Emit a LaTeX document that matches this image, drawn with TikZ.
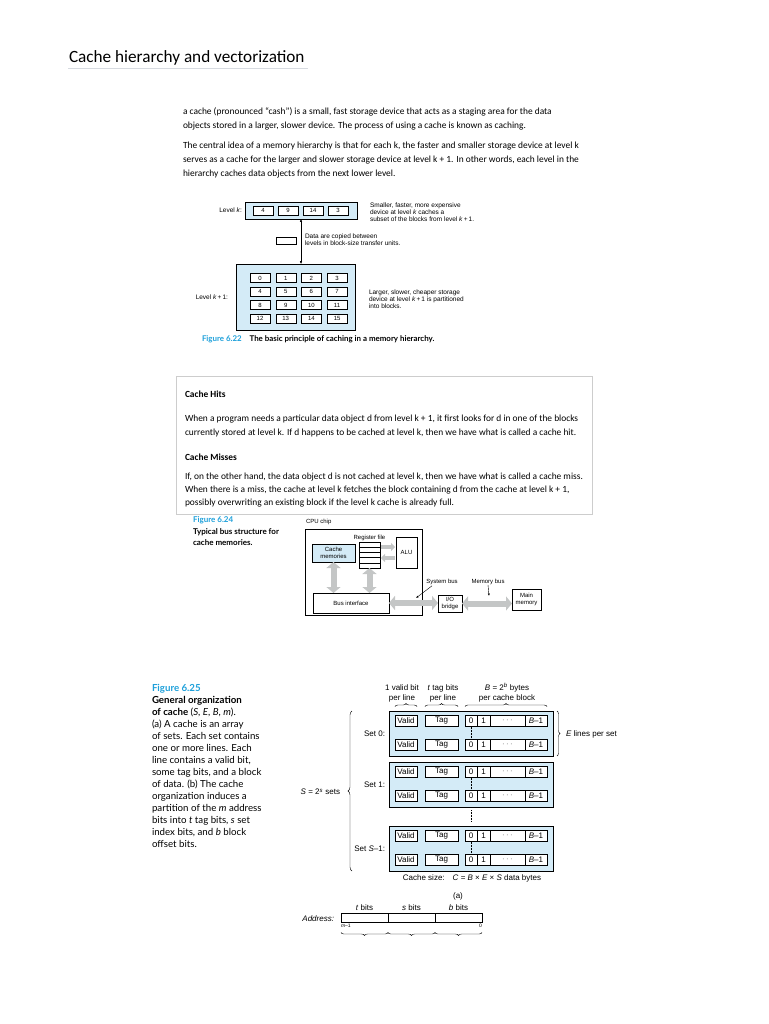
\documentclass[tikz,border=0pt]{standalone}
\usepackage{fontspec}
\setmainfont{Carlito}
\newfontfamily\figfont{Liberation Sans}
\newfontfamily\capfont{Lato}
\usetikzlibrary{arrows.meta,positioning,decorations.pathreplacing,calc}
\definecolor{figBlue}{RGB}{212,235,247}
\definecolor{capCyan}{RGB}{30,160,218}
\definecolor{busGray}{RGB}{196,198,198}
\definecolor{ruleGray}{RGB}{214,218,224}
\definecolor{boxGray}{RGB}{205,205,205}
\newcommand{\figS}{\figfont\fontsize{6}{7}\selectfont}
\newcommand{\figL}{\figfont\fontsize{6.5}{6.8}\selectfont}
\newcommand{\figM}{\figfont\fontsize{8}{10}\selectfont}

\begin{document}
\begin{tikzpicture}[
    x=1pt, y=-1pt,
    >=Latex,
    every node/.style={inner sep=0pt, outer sep=0pt},
    bodytxt/.style={anchor=west, align=left, font=\fontsize{9.4}{14}\selectfont},
    headtxt/.style={anchor=west, font=\bfseries\fontsize{9.4}{11}\selectfont},
    figtxt/.style={anchor=west, align=left, font=\figL},
    bustxt/.style={anchor=west, align=left, font=\figS},
    figlbl/.style={align=center, font=\figM},
    lvlbox/.style={draw, fill=figBlue, line width=0.4pt},
    blk/.style={draw, fill=white, line width=0.4pt, minimum width=20,
        minimum height=9, font=\figS},
    unit/.style={draw, fill=white, line width=0.4pt, align=center, font=\figS},
    fatbus/.style={line width=6pt, busGray,
        {Triangle[length=6pt,width=14pt]}-{Triangle[length=6pt,width=14pt]}},
    thinbus/.style={line width=3.5pt, busGray, -{Triangle[length=4pt,width=8pt]}},
    setbox/.style={draw, fill=figBlue, line width=0.4pt, minimum width=164,
        minimum height=45},
    fld/.style={draw, fill=white, line width=0.4pt, minimum height=11,
        font=\figM},
    brc/.style={decorate, decoration={brace, amplitude=3pt}, line width=0.4pt},
    capbody/.style={anchor=west, align=left,
        font=\capfont\fontsize{9.7}{12}\selectfont}
]
\useasboundingbox (0,0) rectangle (768,1024);

% page heading
\node[anchor=west, font=\fontsize{17.2}{19}\selectfont] (title) at (69,58)
    {Cache hierarchy and vectorization};
\draw[ruleGray, line width=1pt] (68,69) -- (308,69);

\node[bodytxt] (p1) at (183,118.5)
    {a cache (pronounced “cash”) is a small, fast storage device that acts as a staging area for the data\\
     objects stored in a larger, slower device. The process of using a cache is known as caching.};
\node[bodytxt] (p2) at (183,160)
    {The central idea of a memory hierarchy is that for each k, the faster and smaller storage device at level k\\
     serves as a cache for the larger and slower storage device at level k + 1. In other words, each level in the\\
     hierarchy caches data objects from the next lower level.};

% figure 6.22
\node[lvlbox, minimum width=112, minimum height=17] (lk) at (301,210.5) {};
\foreach \v [count=\i from 0] in {4,9,14,3}
  \node[blk] (lk-\i) at (263+25*\i,210.5) {\v};
\node[figtxt, anchor=east] at (242,210.5) {Level \textit{k}:};
\node[figtxt] at (370,212) {Smaller, faster, more expensive\\
    device at level \textit{k} caches a\\subset of the blocks from level \textit{k}\,+\,1.};

\node[blk, minimum height=7] (xfer) at (286,240.5) {};
\node[figtxt] at (305,240) {Data are copied between\\levels in block-size transfer units.};

\node[lvlbox, minimum width=119, minimum height=66] (lk1) at (295.5,297) {};
\foreach \r in {0,...,3}
  \foreach \c in {0,...,3}{
    \pgfmathtruncatemacro{\n}{4*\r+\c}
    \node[blk] (lk1-\n) at (260+25.7*\c,278+13.5*\r) {\n};
  }
\node[figtxt, anchor=east] at (228,297) {Level \textit{k}\,+\,1:};
\node[figtxt] at (369,299) {Larger, slower, cheaper storage\\
    device at level \textit{k}\,+\,1 is partitioned\\into blocks.};
\draw[{Latex[length=3pt,width=2.5pt]}-{Latex[length=3pt,width=2.5pt]}, line width=0.4pt]
    (lk.south) -- (lk.south |- lk1.north);

\node[anchor=west, font=\capfont\bfseries\fontsize{7.9}{9}\selectfont] (cap22) at (202,339)
    {{\color{capCyan}Figure 6.22}\quad The basic principle of caching in a memory hierarchy.};

% hits and misses
\node[draw=boxGray, line width=0.6pt, minimum width=416, minimum height=138,
    anchor=north west] (hitbox) at (176,376) {};
\node[headtxt] (hitT) at (185,394) {Cache Hits};
\node[bodytxt] (hitP) at (185,426)
    {When a program needs a particular data object d from level k + 1, it first looks for d in one of the blocks\\
     currently stored at level k. If d happens to be cached at level k, then we have what is called a cache hit.};
\node[headtxt] (missT) at (185,457) {Cache Misses};
\node[bodytxt, font=\fontsize{9.4}{13}\selectfont] (missP) at (185,490)
    {If, on the other hand, the data object d is not cached at level k, then we have what is called a cache miss.\\
     When there is a miss, the cache at level k fetches the block containing d from the cache at level k + 1,\\
     possibly overwriting an existing block if the level k cache is already full.};

% figure 6.24
\node[anchor=west, align=left, font=\capfont\bfseries\fontsize{8}{11.5}\selectfont] (cap24)
    at (193,531.5) {{\color{capCyan}Figure 6.24}\\Typical bus structure for\\cache memories.};
\node[bustxt] (cpulbl) at (306,522) {CPU chip};
\node[draw, line width=0.5pt, minimum width=117, minimum height=86,
    anchor=north west] (cpu) at (305,529) {};
\node[unit, fill=figBlue, minimum width=43, minimum height=18] (cachemem) at (333.5,553)
    {Cache\\memories};
\node[unit, minimum width=21, minimum height=26] (regfile) at (369.5,555) {};
\foreach \k in {1,...,4}
  \draw[line width=0.3pt] ($(regfile.north west)!\k/5!(regfile.south west)$)
    -- ($(regfile.north east)!\k/5!(regfile.south east)$);
\node[bustxt, above=1.5pt of regfile] (reglbl) {Register file};
\node[unit, minimum width=21, minimum height=31] (alu) at (406.5,552.5) {ALU};
\node[unit, minimum width=76, minimum height=20] (busif) at (351,603) {Bus interface};
\node[unit, minimum width=24, minimum height=17] (iob) at (450,603.5) {I/O\\bridge};
\node[unit, minimum width=29, minimum height=21] (mainmem) at (526.5,599.5) {Main\\memory};

\draw[thinbus] ($(regfile.east)+(1,-8)$) -- ($(alu.west |- regfile.east)+(-1,-8)$);
\draw[thinbus] ($(alu.west |- regfile.east)+(-1,3)$) -- ($(regfile.east)+(1,3)$);
\draw[fatbus] (cachemem.south) -- (cachemem.south |- busif.north);
\draw[fatbus] (regfile.south) -- (regfile.south |- busif.north);
\draw[fatbus] (busif.east) -- (iob.west |- busif.east);
\draw[fatbus] (iob.east) -- (mainmem.west |- iob.east);

\node[bustxt, anchor=center] (sysbus) at (442,582) {System bus};
\node[bustxt, anchor=center] (membus) at (488,582) {Memory bus};
\coordinate (sysPt) at (416,598);
\coordinate (memPt) at (489,596);
\draw[-{Latex[length=2.5pt,width=2pt]}, line width=0.4pt] ($(sysbus.south)+(-10,1)$) -- (sysPt);
\draw[-{Latex[length=2.5pt,width=2pt]}, line width=0.4pt] (membus.south) -- (memPt);

% figure 6.25
\node[capbody] (cap25) at (152,766)
    {{\color{capCyan}\bfseries Figure 6.25}\\
     \textbf{General organization}\\
     \textbf{of cache} (\textit{S}, \textit{E}, \textit{B}, \textit{m}).\\
     (a) A cache is an array\\
     of sets. Each set contains\\
     one or more lines. Each\\
     line contains a valid bit,\\
     some tag bits, and a block\\
     of data. (b) The cache\\
     organization induces a\\
     partition of the \textit{m} address\\
     bits into \textit{t} tag bits, \textit{s} set\\
     index bits, and \textit{b} block\\
     offset bits.};

\foreach \s/\ty/\lab in {0/711/{Set 0:}, 1/762/{Set 1:}, 2/826/{Set \textit{S}–1:}} {
  \node[setbox, anchor=north] (set\s) at (471,\ty) {};
  \node[figlbl, anchor=east] at (385,\ty+22.5) {\lab};
  \foreach \r/\dy in {a/10, b/34} {
    \node[fld, minimum width=22] (v\s\r) at (406,\ty+\dy) {Valid};
    \node[fld, minimum width=33] (t\s\r) at (441.5,\ty+\dy) {Tag};
    \node[fld, minimum width=12] (z\s\r) at (471,\ty+\dy) {0};
    \node[fld, minimum width=13, right=0pt of z\s\r] (o\s\r) {1};
    \node[fld, minimum width=35, right=0pt of o\s\r] (d\s\r) {\color{gray}·\,·\,·};
    \node[fld, minimum width=22, right=0pt of d\s\r] (e\s\r) {\textit{B}–1};
  }
  \draw[line width=0.5pt, densely dotted] (z\s a.south) -- (z\s b.north);
}
\draw[line width=0.5pt, densely dotted] ($(set1.south)+(0,3)$) -- ($(set2.north)+(0,-4)$);

\draw[brc, decoration={brace, amplitude=4pt}] ($(set2.south west)+(-37,0)$)
    -- ($(set0.north west)+(-37,0)$);
\node[figlbl, anchor=east] (nsets) at (340,792) {\textit{S} = 2\textsuperscript{\textit{s}} sets};
\draw[brc] ($(set0.north east)+(4,0)$) -- ($(set0.south east)+(4,0)$);
\node[figlbl, anchor=west] (elines) at (566,734) {\textit{E} lines per set};

\draw[brc] ($(v0a.north west)+(0,-9)$) -- ($(v0a.north east)+(0,-9)$);
\draw[brc] ($(t0a.north west)+(0,-9)$) -- ($(t0a.north east)+(0,-9)$);
\draw[brc] ($(z0a.north west)+(0,-9)$) -- ($(e0a.north east)+(0,-9)$);
\node[figlbl] (vlbl) at (402,693) {1 valid bit\\per line};
\node[figlbl] (tlbl) at (443,693) {\textit{t} tag bits\\per line};
\node[figlbl] (blbl) at (507,693) {\textit{B} = 2\textsuperscript{\textit{b}} bytes\\per cache block};

\node[figlbl] (csize) at (472,878)
    {Cache size:\quad \textit{C} = \textit{B} × \textit{E} × \textit{S} data bytes};
\node[figlbl] (suba) at (458,896) {(a)};

% address split
\node[draw, line width=0.4pt, minimum width=47, minimum height=9] (tfld) at (364.5,918) {};
\node[draw, line width=0.4pt, minimum width=47, minimum height=9, right=0pt of tfld] (sfld) {};
\node[draw, line width=0.4pt, minimum width=47, minimum height=9, right=0pt of sfld] (bfld) {};
\node[figlbl, above=2.5pt of tfld] {\textit{t} bits};
\node[figlbl, above=2.5pt of sfld] {\textit{s} bits};
\node[figlbl, above=2.5pt of bfld] {\textit{b} bits};
\node[figlbl, anchor=east] (addr) at (334,919) {\textit{Address:}};
\node[font=\figfont\fontsize{5}{6}\selectfont, anchor=north west] at ($(tfld.south west)+(0,1.5)$) {\textit{m}–1};
\node[font=\figfont\fontsize{5}{6}\selectfont, anchor=north east] at ($(bfld.south east)+(0,1.5)$) {0};
\draw[brc] ($(tfld.south east)+(0,10)$) -- ($(tfld.south west)+(0,10)$);
\draw[brc] ($(sfld.south east)+(0,10)$) -- ($(sfld.south west)+(0,10)$);
\draw[brc] ($(bfld.south east)+(0,10)$) -- ($(bfld.south west)+(0,10)$);
\end{tikzpicture}
\end{document}
